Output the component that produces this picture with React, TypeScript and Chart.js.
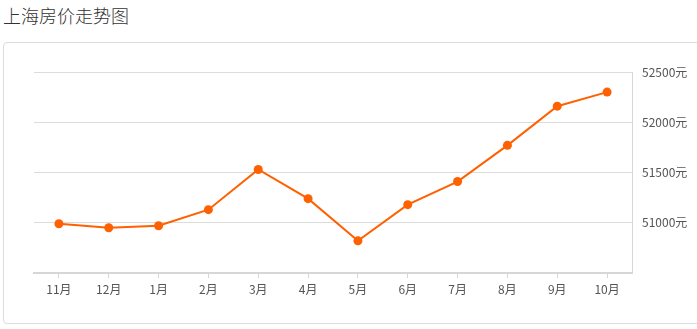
import React, { useEffect, useRef } from "react";
import { Chart, registerables } from "chart.js";

Chart.register(...registerables);

const title = "上海房价走势图";
const months = ["11月", "12月", "1月", "2月", "3月", "4月", "5月", "6月", "7月", "8月", "9月", "10月"];
const prices = [50990, 50950, 50970, 51130, 51530, 51240, 50820, 51180, 51410, 51770, 52160, 52300];
const yMin = 50500;
const yMax = 52500;
const yStep = 500;
const unit = "元";

const FONT = "'Microsoft YaHei', 'Noto Sans CJK SC', sans-serif";

export default function App() {
  const ref = useRef<HTMLCanvasElement | null>(null);

  useEffect(() => {
    document.body.style.margin = "0";
    const canvas = ref.current;
    if (!canvas) return;
    const chart = new Chart(canvas, {
      type: "line",
      data: {
        labels: months,
        datasets: [
          {
            data: prices,
            borderColor: "#ff6000",
            backgroundColor: "#ff6000",
            pointBackgroundColor: "#ff6000",
            pointBorderColor: "#ff6000",
            borderWidth: 2,
            pointRadius: 4.5,
            pointBorderWidth: 0,
            tension: 0,
            fill: false,
          },
        ],
      },
      options: {
        animation: false,
        responsive: false,
        maintainAspectRatio: false,
        layout: { padding: { left: 34, top: 72, right: 0, bottom: 0 } },
        plugins: { legend: { display: false }, tooltip: { enabled: false } },
        scales: {
          x: {
            type: "category",
            offset: true,
            grid: {
              display: true,
              drawOnChartArea: false,
              offset: false,
              tickLength: 5,
              color: "#d6d6d6",
            },
            border: { display: true, color: "#d6d6d6", width: 2 },
            ticks: {
              color: "#555",
              font: { family: FONT, size: 12 },
              padding: 4,
              maxRotation: 0,
              autoSkip: false,
            },
            afterFit: (s: any) => {
              s.height = 56;
            },
          },
          y: {
            position: "right",
            min: yMin,
            max: yMax,
            grid: { color: "#dcdcdc", drawTicks: false, lineWidth: 1 },
            border: { display: true, color: "#d6d6d6", width: 1 },
            ticks: {
              stepSize: yStep,
              color: "#555",
              padding: 10,
              font: { family: FONT, size: 12 },
              callback: (v: any) => (v === yMin ? "" : v + unit),
            },
            afterFit: (s: any) => {
              s.width = 65;
            },
          },
        },
      },
    });
    return () => chart.destroy();
  }, []);

  return (
    <div style={{ position: "relative", width: 697, height: 329, overflow: "hidden", background: "#fff" }}>
      <div
        style={{
          position: "absolute",
          left: 3,
          top: 3,
          fontFamily: FONT,
          fontSize: 18,
          fontWeight: 300,
          color: "#333",
          lineHeight: "24px",
        }}
      >
        {title}
      </div>
      <div
        style={{
          position: "absolute",
          left: 3,
          top: 42,
          width: 720,
          height: 282,
          border: "1px solid #dcdcdc",
          borderRadius: 4,
          boxSizing: "border-box",
        }}
      />
      <canvas
        ref={ref}
        width={697}
        height={329}
        style={{ position: "absolute", left: 0, top: 0, width: 697, height: 329 }}
      />
    </div>
  );
}
